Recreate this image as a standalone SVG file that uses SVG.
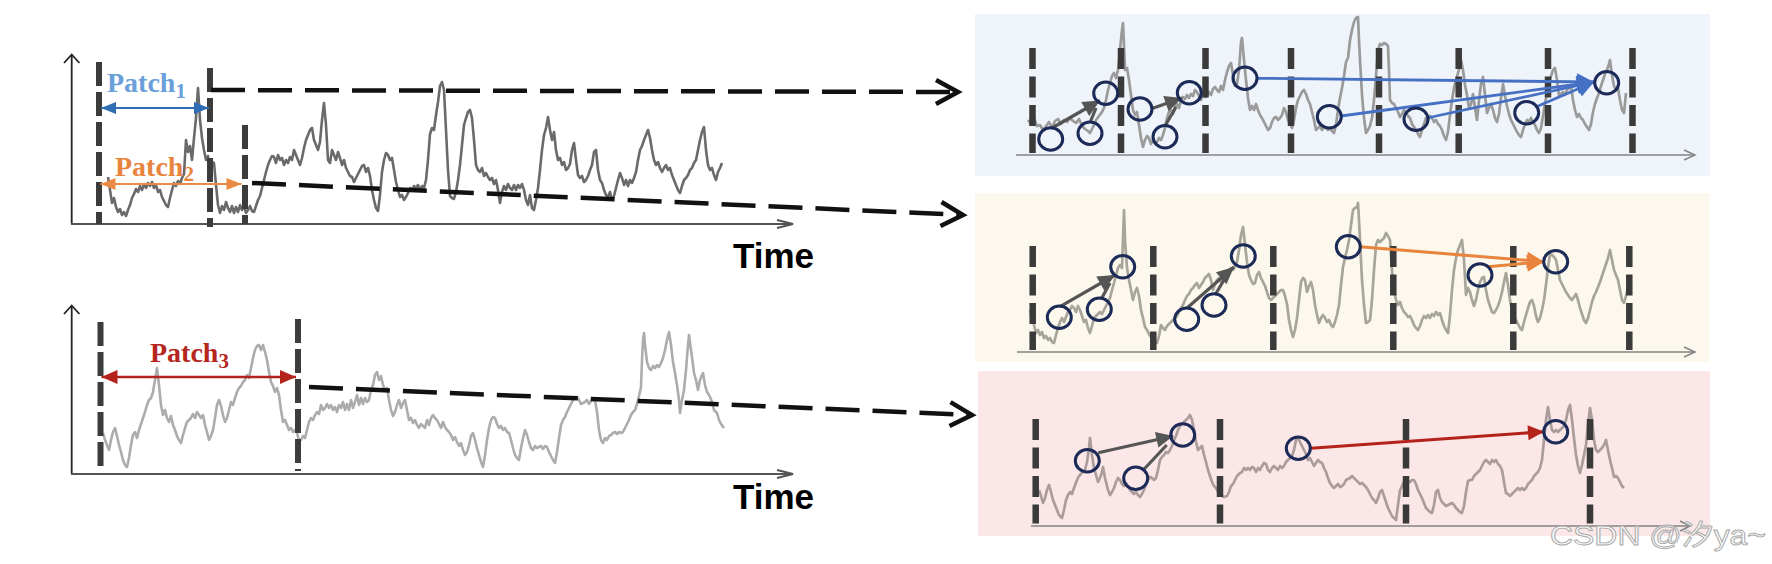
<svg xmlns="http://www.w3.org/2000/svg" width="1772" height="564" viewBox="0 0 1772 564">
<style>
.bg{fill:#ffffff}
.axis{fill:none;stroke:#222;stroke-width:1.8}
.xaxis{fill:none;stroke:#555;stroke-width:2}
.paxis{fill:none;stroke:#858585;stroke-width:1.5}
.sig1{fill:none;stroke:#6a6a6a;stroke-width:2.6;stroke-linejoin:round}
.sig2{fill:none;stroke:#acacac;stroke-width:2.6;stroke-linejoin:round}
.psig1{fill:none;stroke:#9a9a9a;stroke-width:2.7;stroke-linejoin:round}
.psig2{fill:none;stroke:#a7a49a;stroke-width:2.7;stroke-linejoin:round}
.psig3{fill:none;stroke:#ab9c9c;stroke-width:2.7;stroke-linejoin:round}
.vdash{stroke:#3c3c3c;stroke-width:6;stroke-dasharray:24 6;fill:none}
.pdash{stroke:#3a3a3a;stroke-width:6.5;stroke-dasharray:21 7.5;fill:none}
.pt{fill:none;stroke:#1b2a57;stroke-width:3}
.conn{fill:none;stroke:#111;stroke-width:4.5;stroke-dasharray:34 13}
.garr{fill:none;stroke:#555;stroke-width:3.2}
.barr{fill:none;stroke:#4670c4;stroke-width:2.8}
.oarr{fill:none;stroke:#e8843c;stroke-width:3}
.rarr{fill:none;stroke:#b3231b;stroke-width:3}
.lbl{font-family:"Liberation Serif",serif;font-weight:bold;font-size:28px}
.time{font-family:"Liberation Sans",Arial,sans-serif;font-weight:bold;font-size:35px;fill:#000}
</style>
<defs>
<marker id="chev" markerUnits="userSpaceOnUse" markerWidth="30" markerHeight="30" refX="22" refY="12" orient="auto" overflow="visible">
<path d="M0,0 L22,12 L0,24" fill="none" stroke="#111" stroke-width="4.5" stroke-dasharray="none"/>
</marker>
<marker id="hblue" markerUnits="userSpaceOnUse" markerWidth="20" markerHeight="16" refX="15" refY="6" orient="auto-start-reverse" overflow="visible">
<path d="M0,0 L15,6 L0,12 z" fill="#2f6db5"/>
</marker>
<marker id="horange" markerUnits="userSpaceOnUse" markerWidth="20" markerHeight="16" refX="15" refY="6" orient="auto-start-reverse" overflow="visible">
<path d="M0,0 L15,6 L0,12 z" fill="#ea8a45"/>
</marker>
<marker id="hred" markerUnits="userSpaceOnUse" markerWidth="20" markerHeight="16" refX="16" refY="7" orient="auto-start-reverse" overflow="visible">
<path d="M0,0 L16,7 L0,14 z" fill="#b3231b"/>
</marker>
<marker id="mgray" markerUnits="userSpaceOnUse" markerWidth="20" markerHeight="20" refX="17" refY="8" orient="auto" overflow="visible">
<path d="M0,0 L17,8 L0,16 z" fill="#555"/>
</marker>
<marker id="mblue" markerUnits="userSpaceOnUse" markerWidth="20" markerHeight="20" refX="17" refY="8.5" orient="auto" overflow="visible">
<path d="M0,0 L17,8.5 L0,17 z" fill="#4670c4"/>
</marker>
<marker id="morange" markerUnits="userSpaceOnUse" markerWidth="20" markerHeight="20" refX="17" refY="8.5" orient="auto" overflow="visible">
<path d="M0,0 L17,8.5 L0,17 z" fill="#e8843c"/>
</marker>
<marker id="mred" markerUnits="userSpaceOnUse" markerWidth="20" markerHeight="20" refX="16" refY="7.5" orient="auto" overflow="visible">
<path d="M0,0 L16,7.5 L0,15 z" fill="#b3231b"/>
</marker>
</defs>
<rect class="bg" x="0" y="0" width="1772" height="564"/>

<g id="plot-top-left">
<line class="axis" x1="71.7" y1="55" x2="71.7" y2="224"/>
<path class="axis" d="M64,63 L71.7,54.5 L79.4,63" stroke-width="1.5"/>
<line class="xaxis" x1="71" y1="224" x2="792" y2="224"/>
<path class="xaxis" d="M777,220 L793,224 L777,228" stroke-width="1.5"/>
<polyline class="sig1" points="108,177 110,190 112,203 114,198 116,207 118,212 120,209 122,215 124,212 126,216 128,210 130,205 132,198 134,194 136,189 138,192 140,186 142,190 144,184 146,188 148,183 150,186 152,182 154,188 156,185 158,192 160,190 162,197 164,201 166,205 168,207 170,198 172,190 174,183 176,186 178,181 180,184 182,178 184,174 186,140 188,152 190,146 192,160 194,138 196,118 198,88 200,120 202,138 204,150 206,160 208,156 210,170 212,162 214,163 216,185 218,205 220,213 222,206 224,210 226,202 228,208 230,212 232,206 234,213 236,207 238,212 240,205 242,210 244,206 246,213 248,210 250,206 252,211 254,212 256,206 258,200 260,196 262,188 264,180 266,172 268,165 270,160 272,156 274,157 276,163 278,155 280,160 282,158 284,165 286,160 288,163 290,157 292,160 294,150 296,155 298,160 300,165 302,158 304,148 306,140 308,135 310,130 312,128 314,140 316,145 318,150 320,142 322,120 324,103 326,125 328,160 330,163 332,150 334,155 336,160 338,152 340,158 342,165 344,160 346,168 348,172 350,176 352,177 354,182 356,178 358,174 360,170 362,166 364,165 366,172 368,168 370,176 372,190 374,200 376,208 378,211 380,195 382,172 384,160 386,153 388,155 390,160 392,158 394,170 396,182 398,190 400,197 402,195 404,200 406,197 408,193 410,188 412,190 414,186 416,188 418,185 420,190 422,186 424,188 426,180 428,160 430,134 432,128 434,130 436,115 438,102 440,86 442,82 444,90 446,130 448,170 450,196 452,198 454,199 456,192 458,180 460,165 462,145 464,125 466,118 468,112 470,110 472,118 474,140 476,165 478,170 480,172 482,168 484,176 486,173 488,177 490,180 492,178 494,184 496,180 498,190 500,203 502,192 504,186 506,190 508,184 510,188 512,190 514,185 516,190 518,185 520,188 522,184 524,190 526,200 528,205 530,195 532,208 534,210 536,200 538,188 540,170 542,150 544,135 546,128 548,117 550,130 552,140 554,132 556,150 558,160 560,158 562,165 564,162 566,170 568,168 570,164 572,150 574,143 576,160 578,175 580,178 582,176 584,182 586,180 588,176 590,170 592,165 594,152 596,150 598,170 600,180 602,183 604,190 606,195 608,197 610,192 612,200 614,196 616,188 618,180 620,173 622,178 624,185 626,180 628,186 630,180 632,183 634,178 636,172 638,160 640,150 642,146 644,140 646,135 648,130 650,138 652,150 654,160 656,165 658,162 660,168 662,172 664,168 666,165 668,170 670,168 672,175 674,180 676,185 678,190 680,193 682,186 684,180 686,178 688,175 690,170 692,168 694,163 696,160 698,150 700,140 702,132 704,127 706,150 708,165 710,170 712,168 714,175 716,180 718,172 720,168 722,163"/>
<line class="vdash" x1="99" y1="62" x2="99" y2="224"/>
<line class="vdash" x1="210" y1="68" x2="210" y2="227"/>
<line class="vdash" x1="245" y1="125" x2="245" y2="224"/>
<line x1="101" y1="108" x2="209" y2="108" stroke="#2f6db5" stroke-width="2" marker-start="url(#hblue)" marker-end="url(#hblue)"/>
<text class="lbl" x="107" y="92" fill="#6a9fd9">Patch<tspan font-size="21" dy="6">1</tspan></text>
<line x1="100.5" y1="184" x2="241.5" y2="184" stroke="#ea8a45" stroke-width="2" marker-start="url(#horange)" marker-end="url(#horange)"/>
<text class="lbl" x="115" y="176" fill="#e8843e">Patch<tspan font-size="21" dy="5">2</tspan></text>
<text class="time" x="733" y="268">Time</text>
</g>

<g id="plot-bottom-left">
<line class="axis" x1="71.7" y1="306" x2="71.7" y2="474"/>
<path class="axis" d="M64,314 L71.7,305.5 L79.4,314" stroke-width="1.5"/>
<line class="xaxis" x1="71" y1="474" x2="792" y2="474"/>
<path class="xaxis" d="M777,470 L793,474 L777,478" stroke-width="1.5"/>
<polyline class="sig2" points="103,433 105,440 107,445 109,450 111,440 113,432 115,428 117,436 119,445 121,452 123,460 125,465 127,467 129,458 131,445 133,435 135,432 137,438 139,430 141,424 143,418 145,412 147,405 149,400 151,398 153,392 155,380 157,368 159,385 161,405 163,415 165,410 167,418 169,422 171,416 173,425 175,430 177,436 179,440 181,443 183,435 185,428 187,422 189,420 191,418 193,414 195,418 197,412 199,415 201,418 203,415 205,425 207,432 209,440 211,436 213,430 215,418 217,405 219,400 221,406 223,415 225,422 227,418 229,410 231,402 233,405 235,398 237,392 239,388 241,386 243,382 245,380 247,375 249,378 251,368 253,358 255,350 257,346 259,345 261,350 263,345 265,352 267,360 269,372 271,382 273,386 275,392 277,388 279,395 281,410 283,422 285,420 287,425 289,430 291,428 293,432 295,430 297,433 299,440 301,440 303,436 305,438 307,430 309,422 311,418 313,420 315,415 317,412 319,414 321,405 323,410 325,408 327,404 329,408 331,405 333,410 335,407 337,412 339,405 341,408 343,402 345,410 347,404 349,410 351,400 353,408 355,402 357,395 359,405 361,398 363,404 365,398 367,402 369,400 371,390 373,385 375,375 377,372 379,380 381,376 383,385 385,390 387,388 389,400 391,410 393,416 395,412 397,405 399,400 401,408 403,403 405,400 407,410 409,420 411,418 413,423 415,420 417,425 419,428 421,424 423,426 425,428 427,420 429,425 431,418 433,415 435,418 437,420 439,424 441,428 443,422 445,427 447,430 449,432 451,435 453,440 455,437 457,442 459,446 461,443 463,450 465,455 467,452 469,445 471,436 473,433 475,440 477,448 479,455 481,462 483,467 485,455 487,440 489,428 491,420 493,417 495,418 497,424 499,428 501,426 503,430 505,428 507,432 509,433 511,440 513,448 515,455 517,458 519,460 521,448 523,438 525,430 527,435 529,442 531,448 533,450 535,446 537,448 539,447 541,446 543,449 545,446 547,447 549,452 551,456 553,460 555,463 557,452 559,438 561,425 563,420 565,417 567,412 569,408 571,404 573,400 575,398 577,397 579,400 581,404 583,403 585,402 587,400 589,404 591,401 593,399 595,400 597,412 599,430 601,440 603,443 605,438 607,440 609,436 611,435 613,433 615,432 617,434 619,432 621,433 623,432 625,428 627,424 629,420 631,415 633,412 635,410 637,404 639,396 641,387 642,360 643,340 644,333 645,345 647,362 649,368 651,370 653,366 655,368 657,365 659,367 661,363 663,358 665,350 667,340 669,332 671,345 673,362 675,373 677,385 679,400 680,413 682,400 684,390 686,370 688,345 689,335 691,350 693,365 694,373 696,380 698,390 700,380 702,375 703,373 705,385 707,392 709,395 710,397 712,402 714,410 716,412 717,413 719,420 721,424 724,428"/>
<line class="vdash" x1="100.5" y1="322" x2="100.5" y2="471"/>
<line class="vdash" x1="298" y1="319" x2="298" y2="471"/>
<line x1="101.5" y1="377" x2="296" y2="377" stroke="#b3231b" stroke-width="2.5" marker-start="url(#hred)" marker-end="url(#hred)"/>
<text class="lbl" x="150" y="362" fill="#b5261e">Patch<tspan font-size="21" dy="6">3</tspan></text>
<text class="time" x="733" y="509">Time</text>
</g>

<g id="panel-1">
<rect x="975" y="14" width="735" height="162" fill="#eff3fa"/>
<line class="paxis" x1="1016" y1="155" x2="1695" y2="155"/>
<path class="paxis" d="M1684,150 L1695,155 L1684,160"/>
<polyline class="psig1" points="1028,120 1031,124 1034,118 1037,126 1040,125 1043,130 1046,126 1049,122 1052,128 1055,121 1058,119 1061,124 1064,120 1067,122 1070,118 1073,121 1076,123 1079,119 1082,126 1085,129 1088,131 1090,133 1093,127 1096,120 1099,116 1102,112 1104,108 1106,100 1108,90 1110,83 1112,76 1114,73 1116,78 1118,70 1120,50 1122,30 1123,23 1124,45 1125,70 1127,68 1129,80 1131,95 1133,110 1135,115 1137,112 1139,125 1141,138 1143,147 1145,140 1147,136 1149,138 1151,144 1153,140 1155,143 1157,142 1159,138 1161,140 1163,135 1165,128 1167,118 1169,112 1171,110 1173,114 1175,107 1177,104 1179,108 1181,100 1183,97 1185,99 1187,95 1189,98 1191,94 1193,96 1195,90 1197,92 1199,96 1201,100 1203,93 1205,97 1207,96 1209,92 1211,95 1213,89 1215,87 1217,90 1219,92 1221,86 1223,90 1225,80 1227,72 1229,66 1231,63 1233,75 1235,86 1237,84 1239,70 1241,42 1242,38 1244,60 1246,80 1248,98 1250,110 1252,106 1254,110 1256,104 1258,110 1260,115 1262,118 1264,122 1266,126 1268,130 1270,128 1272,122 1274,118 1276,117 1278,120 1280,118 1282,115 1284,108 1286,112 1288,120 1290,124 1292,128 1294,120 1296,108 1298,100 1300,96 1302,92 1304,90 1306,94 1308,100 1310,104 1312,112 1314,120 1316,130 1318,128 1320,126 1322,130 1324,127 1326,128 1328,130 1330,128 1332,131 1334,133 1336,125 1338,110 1340,98 1342,88 1344,76 1346,62 1348,58 1350,40 1352,30 1354,22 1356,18 1358,17 1359,40 1360,60 1362,95 1364,118 1366,133 1368,130 1370,126 1372,118 1374,100 1376,76 1378,50 1380,44 1382,45 1384,43 1386,44 1388,46 1389,70 1390,100 1392,103 1394,104 1396,108 1398,112 1400,117 1402,114 1404,110 1406,112 1408,116 1410,118 1412,124 1414,127 1416,130 1418,134 1420,137 1422,130 1424,124 1426,118 1428,120 1430,116 1432,118 1434,122 1436,120 1438,124 1440,126 1442,130 1444,136 1446,140 1448,132 1450,115 1452,100 1454,88 1456,80 1458,73 1460,66 1461,60 1463,70 1465,85 1467,95 1469,108 1471,104 1473,94 1475,108 1477,120 1479,100 1481,84 1483,77 1485,95 1487,113 1489,108 1491,104 1493,110 1495,118 1497,122 1499,114 1501,98 1503,84 1505,96 1507,106 1509,114 1511,120 1513,124 1515,128 1517,132 1519,135 1521,137 1523,130 1525,124 1527,120 1529,122 1531,118 1533,122 1535,125 1537,130 1539,133 1541,128 1543,116 1545,103 1547,94 1549,84 1551,76 1553,70 1555,68 1557,80 1559,96 1561,94 1563,92 1565,95 1567,90 1569,88 1571,86 1573,100 1575,110 1577,117 1579,114 1581,118 1583,120 1585,124 1587,127 1589,130 1591,124 1593,112 1595,104 1597,98 1599,93 1601,86 1603,80 1605,74 1607,70 1609,64 1610,60 1612,75 1614,86 1616,90 1618,88 1620,100 1622,110 1624,113 1626,93"/>
<line class="pdash" x1="1032.5" y1="48" x2="1032.5" y2="153"/>
<line class="pdash" x1="1121" y1="48" x2="1121" y2="153"/>
<line class="pdash" x1="1205.5" y1="48" x2="1205.5" y2="153"/>
<line class="pdash" x1="1291" y1="48" x2="1291" y2="153"/>
<line class="pdash" x1="1379" y1="48" x2="1379" y2="153"/>
<line class="pdash" x1="1458.7" y1="48" x2="1458.7" y2="153"/>
<line class="pdash" x1="1548" y1="48" x2="1548" y2="153"/>
<line class="pdash" x1="1632.5" y1="48" x2="1632.5" y2="153"/>
<line class="garr" x1="1052" y1="128" x2="1100" y2="100.5" marker-end="url(#mgray)"/>
<line class="garr" x1="1090" y1="122.7" x2="1096" y2="108"/>
<line class="garr" x1="1152" y1="108.5" x2="1182" y2="98" marker-end="url(#mgray)"/>
<line class="garr" x1="1165" y1="126" x2="1176" y2="107"/>
<line class="barr" x1="1257" y1="78.3" x2="1594" y2="82" marker-end="url(#mblue)"/>
<line class="barr" x1="1341" y1="116" x2="1594" y2="82" marker-end="url(#mblue)"/>
<line class="barr" x1="1427" y1="118" x2="1594" y2="82" marker-end="url(#mblue)"/>
<line class="barr" x1="1537" y1="106.5" x2="1594" y2="82" marker-end="url(#mblue)"/>
<ellipse class="pt" cx="1050.7" cy="139" rx="12" ry="11.2"/>
<ellipse class="pt" cx="1090" cy="133.3" rx="12" ry="11.2"/>
<ellipse class="pt" cx="1105.7" cy="93.3" rx="12" ry="11.2"/>
<ellipse class="pt" cx="1140" cy="109" rx="12" ry="11.2"/>
<ellipse class="pt" cx="1165" cy="136.7" rx="12" ry="11.2"/>
<ellipse class="pt" cx="1189.3" cy="92.7" rx="12" ry="11.2"/>
<ellipse class="pt" cx="1245" cy="78.3" rx="12" ry="11.2"/>
<ellipse class="pt" cx="1329.3" cy="116.7" rx="12" ry="11.2"/>
<ellipse class="pt" cx="1416" cy="119.3" rx="12" ry="11.2"/>
<ellipse class="pt" cx="1526.7" cy="112.7" rx="12" ry="11.2"/>
<ellipse class="pt" cx="1606.7" cy="82.7" rx="12" ry="11.2"/>
</g>

<g id="panel-2">
<rect x="975" y="193" width="735" height="169" fill="#fcf8ed"/>
<line class="paxis" x1="1017" y1="352" x2="1695" y2="352"/>
<path class="paxis" d="M1684,347 L1695,352 L1684,357"/>
<polyline class="psig2" points="1030,310 1032,318 1034,325 1036,333 1038,330 1040,335 1042,332 1044,338 1046,336 1048,340 1050,338 1052,342 1054,343 1056,335 1058,328 1060,322 1062,318 1064,322 1066,317 1068,312 1070,310 1072,306 1074,308 1076,312 1078,306 1080,310 1082,316 1084,322 1086,320 1088,328 1090,333 1092,326 1094,318 1096,316 1098,314 1100,312 1102,314 1104,310 1106,306 1108,302 1110,298 1112,290 1114,283 1116,275 1118,268 1120,265 1122,268 1123,240 1124,210 1125,240 1127,268 1129,280 1131,290 1133,300 1135,292 1137,288 1139,296 1141,310 1143,318 1145,327 1147,330 1149,334 1151,337 1153,340 1155,342 1157,343 1159,336 1161,325 1163,328 1165,330 1167,326 1169,324 1171,322 1173,320 1175,318 1177,316 1179,312 1181,308 1183,305 1185,300 1187,296 1189,294 1191,290 1193,288 1195,285 1197,283 1199,288 1201,285 1203,282 1205,278 1207,276 1209,274 1211,280 1213,290 1215,284 1217,280 1219,278 1221,282 1223,276 1225,274 1227,272 1229,270 1231,268 1233,270 1235,266 1237,262 1239,250 1241,235 1243,227 1245,245 1247,262 1249,275 1251,280 1253,284 1255,283 1257,275 1259,272 1261,278 1263,282 1265,286 1267,292 1269,298 1271,300 1273,298 1275,296 1277,294 1279,292 1281,290 1283,290 1285,296 1287,304 1289,320 1291,330 1293,337 1295,330 1297,318 1299,300 1301,282 1303,278 1305,280 1307,292 1309,286 1311,282 1313,290 1315,305 1317,315 1319,323 1321,318 1323,315 1325,318 1327,322 1329,320 1331,325 1333,327 1335,322 1337,315 1339,305 1341,285 1343,267 1345,258 1347,250 1349,240 1351,225 1353,210 1355,208 1357,207 1358,203 1359,220 1360,240 1362,280 1364,305 1366,323 1368,322 1370,320 1372,300 1374,270 1376,245 1378,240 1380,242 1382,240 1384,238 1386,233 1388,236 1390,240 1392,270 1394,290 1396,300 1398,305 1400,302 1402,308 1404,312 1406,314 1408,317 1410,316 1412,320 1414,325 1416,328 1418,330 1420,326 1422,320 1424,316 1426,318 1428,315 1430,318 1432,314 1434,316 1436,312 1438,315 1440,313 1442,320 1444,326 1446,330 1448,333 1450,315 1452,290 1454,270 1456,258 1458,250 1460,245 1462,240 1464,260 1466,295 1468,288 1470,292 1472,300 1474,306 1476,300 1478,290 1480,282 1482,278 1484,277 1486,290 1488,300 1490,306 1492,312 1494,313 1496,310 1498,306 1500,300 1502,292 1504,282 1506,273 1508,285 1510,300 1512,310 1514,316 1516,320 1518,324 1520,328 1522,330 1524,322 1526,315 1528,308 1530,302 1532,300 1534,306 1536,316 1538,322 1540,318 1542,310 1544,300 1546,285 1548,268 1550,254 1552,255 1554,257 1556,260 1558,270 1560,280 1562,284 1564,288 1566,292 1568,295 1570,298 1572,300 1574,297 1576,294 1578,300 1580,308 1582,314 1584,320 1586,323 1588,318 1590,310 1592,302 1594,296 1596,292 1598,287 1600,282 1602,276 1604,270 1606,264 1608,258 1610,250 1612,260 1614,270 1616,275 1618,280 1620,290 1622,300 1624,303 1626,296 1628,288"/>
<line class="pdash" x1="1032.7" y1="246" x2="1032.7" y2="350"/>
<line class="pdash" x1="1153.3" y1="246" x2="1153.3" y2="350"/>
<line class="pdash" x1="1273.3" y1="246" x2="1273.3" y2="350"/>
<line class="pdash" x1="1393.3" y1="246" x2="1393.3" y2="350"/>
<line class="pdash" x1="1513.3" y1="246" x2="1513.3" y2="350"/>
<line class="pdash" x1="1629.3" y1="246" x2="1629.3" y2="350"/>
<line class="garr" x1="1060" y1="306.7" x2="1115" y2="275" marker-end="url(#mgray)"/>
<line class="garr" x1="1101.7" y1="298.3" x2="1110" y2="283"/>
<line class="garr" x1="1187" y1="308" x2="1234" y2="267" marker-end="url(#mgray)"/>
<line class="garr" x1="1215" y1="295" x2="1227" y2="275"/>
<line class="oarr" x1="1360" y1="246.7" x2="1544" y2="261.7" marker-end="url(#morange)"/>
<line class="oarr" x1="1488" y1="266.7" x2="1544" y2="261.7" marker-end="url(#morange)"/>
<ellipse class="pt" cx="1059.3" cy="317.3" rx="12" ry="11.2"/>
<ellipse class="pt" cx="1099.3" cy="309.3" rx="12" ry="11.2"/>
<ellipse class="pt" cx="1122.7" cy="266.7" rx="12" ry="11.2"/>
<ellipse class="pt" cx="1186.7" cy="319.3" rx="12" ry="11.2"/>
<ellipse class="pt" cx="1214" cy="305" rx="12" ry="11.2"/>
<ellipse class="pt" cx="1243.3" cy="256" rx="12" ry="11.2"/>
<ellipse class="pt" cx="1348.3" cy="246.7" rx="12" ry="11.2"/>
<ellipse class="pt" cx="1480" cy="275" rx="12" ry="11.2"/>
<ellipse class="pt" cx="1555.7" cy="261.7" rx="12" ry="11.2"/>
</g>

<g id="panel-3">
<rect x="978" y="371" width="732" height="165" fill="#fbe7e7"/>
<line class="paxis" x1="1031" y1="526" x2="1690" y2="526" stroke="#5e5050" stroke-width="2"/>
<path class="paxis" d="M1680,521 L1690,526 L1680,531" stroke="#5e5050"/>
<polyline class="psig3" points="1039,490 1041,496 1043,503 1045,498 1047,490 1049,485 1051,492 1053,500 1055,505 1057,510 1059,515 1062,518 1064,510 1066,500 1068,495 1070,492 1072,494 1074,488 1077,480 1079,476 1081,474 1083,471 1085,470 1087,462 1089,448 1090,438 1092,455 1094,468 1096,475 1098,482 1100,478 1102,472 1103,467 1105,478 1107,486 1108,490 1110,495 1112,492 1114,488 1116,482 1118,478 1120,480 1122,484 1124,486 1126,483 1128,486 1130,490 1132,492 1134,494 1136,492 1138,495 1140,497 1142,494 1144,490 1146,484 1148,480 1150,477 1152,478 1154,480 1156,478 1158,470 1160,460 1162,457 1164,455 1166,452 1168,453 1170,450 1172,446 1174,440 1176,436 1178,430 1180,426 1182,424 1184,422 1186,420 1188,418 1190,415 1192,420 1194,430 1196,442 1198,450 1200,448 1202,446 1204,455 1206,462 1208,470 1210,476 1212,482 1214,486 1216,488 1218,492 1220,494 1222,496 1224,497 1227,496 1229,492 1231,486 1233,484 1235,480 1237,476 1240,473 1242,472 1244,468 1246,470 1248,468 1250,470 1252,467 1254,468 1256,472 1258,468 1260,470 1262,466 1264,463 1266,464 1268,470 1270,472 1272,468 1274,466 1276,468 1278,470 1280,466 1282,468 1284,466 1286,462 1288,460 1290,458 1292,456 1294,450 1296,440 1298,438 1300,442 1302,446 1304,450 1306,454 1308,460 1310,458 1312,462 1314,466 1316,463 1318,460 1320,462 1322,463 1324,468 1326,472 1328,478 1330,483 1332,486 1334,488 1336,486 1338,484 1340,487 1342,486 1344,484 1346,480 1348,479 1350,478 1352,476 1354,478 1356,480 1358,482 1360,484 1362,483 1364,485 1366,487 1368,490 1370,494 1372,498 1374,500 1376,503 1378,498 1380,492 1382,490 1384,496 1386,502 1388,508 1390,512 1392,516 1394,518 1396,520 1398,505 1400,490 1402,486 1404,482 1406,480 1408,481 1410,482 1412,480 1414,480 1416,484 1418,490 1420,494 1422,498 1424,503 1426,508 1428,510 1430,512 1432,513 1434,505 1436,492 1438,490 1440,498 1442,502 1444,504 1446,506 1448,505 1450,504 1452,503 1454,505 1456,508 1458,510 1460,512 1462,513 1464,506 1466,492 1468,481 1470,480 1472,480 1474,476 1476,474 1478,472 1480,470 1482,466 1484,462 1486,460 1488,462 1490,464 1492,460 1494,462 1496,460 1498,464 1500,466 1502,470 1504,482 1506,493 1508,494 1510,496 1512,494 1514,492 1516,490 1518,488 1520,490 1522,488 1524,490 1526,488 1528,484 1530,482 1532,480 1534,476 1536,474 1538,472 1540,468 1542,460 1544,440 1546,420 1548,407 1550,420 1552,430 1554,432 1556,430 1558,432 1560,430 1562,428 1564,426 1566,420 1568,410 1570,405 1572,420 1574,438 1576,455 1578,466 1580,473 1582,465 1584,455 1586,445 1588,425 1590,408 1592,420 1594,440 1596,450 1598,452 1600,450 1602,448 1604,445 1606,440 1608,450 1610,460 1612,468 1614,477 1616,476 1618,478 1620,482 1622,486 1624,488"/>
<line class="pdash" x1="1035.7" y1="419" x2="1035.7" y2="523.5"/>
<line class="pdash" x1="1220" y1="419" x2="1220" y2="523.5"/>
<line class="pdash" x1="1406" y1="419" x2="1406" y2="523.5"/>
<line class="pdash" x1="1590" y1="419" x2="1590" y2="523.5"/>
<line class="garr" x1="1098.3" y1="452.7" x2="1173.3" y2="436" marker-end="url(#mgray)"/>
<line class="garr" x1="1143.3" y1="470" x2="1166.7" y2="445"/>
<line class="rarr" x1="1311" y1="448.3" x2="1544" y2="431.7" marker-end="url(#mred)"/>
<ellipse class="pt" cx="1087.3" cy="460.7" rx="12" ry="11.2"/>
<ellipse class="pt" cx="1135.7" cy="478.3" rx="12" ry="11.2"/>
<ellipse class="pt" cx="1182.7" cy="435" rx="12" ry="11.2"/>
<ellipse class="pt" cx="1298.3" cy="448.3" rx="12" ry="11.2"/>
<ellipse class="pt" cx="1555.7" cy="431.7" rx="12" ry="11.2"/>
</g>

<g id="connectors">
<line class="conn" x1="211" y1="90" x2="958" y2="92" marker-end="url(#chev)"/>
<line class="conn" x1="252" y1="183" x2="963" y2="215" marker-end="url(#chev)"/>
<line class="conn" x1="309" y1="387" x2="972" y2="415" marker-end="url(#chev)"/>
</g>

<g id="watermark">
<text x="1550" y="545" font-family="'Liberation Sans','Noto Sans CJK SC',sans-serif" font-size="28" textLength="216" lengthAdjust="spacingAndGlyphs" fill="#fafafa" stroke="#a8a8a8" stroke-width="0.9">CSDN @汐ya~</text>
</g>
</svg>
